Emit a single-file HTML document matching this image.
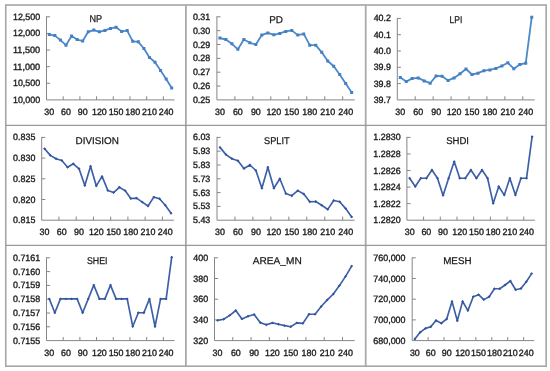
<!DOCTYPE html>
<html lang="en"><head><meta charset="utf-8"><title>Landscape metrics</title>
<style>
html,body{margin:0;padding:0;background:#fff}
svg{display:block;filter:blur(.35px)}
text{font-family:"Liberation Sans",sans-serif;fill:#1a1a1a;text-rendering:geometricPrecision}
.l{font-size:9.2px;stroke:#1a1a1a;stroke-width:.35px}
.t{font-size:9.8px;stroke:#1a1a1a;stroke-width:.25px}
</style></head><body>
<svg width="550" height="371" viewBox="0 0 550 371">
<rect width="550" height="371" fill="#fff"/>
<g fill="none" stroke="#a6a6a6">
<rect x="5.75" y="5" width="540.4" height="361.2" stroke-width="1.6"/>
<path d="M185.9 5V366M365.7 5V366" stroke-width="1.8" stroke="#aaaaaa"/>
<path d="M5.7 125.4H546M5.7 245.4H546" stroke-width="1.4" stroke="#999999"/>
</g>
<g>
<path d="M46.5 16.3V99.9H174.5M46.5 16.8h3.6M46.5 33.42h3.6M46.5 50.04h3.6M46.5 66.66h3.6M46.5 83.28h3.6M63.2 99.9v-3.6M79.89 99.9v-3.6M96.59 99.9v-3.6M113.28 99.9v-3.6M129.97 99.9v-3.6M146.67 99.9v-3.6M163.37 99.9v-3.6" fill="none" stroke="#868686" stroke-width="1"/>
<text class="l" x="40.2" y="19.8" text-anchor="end" textLength="27.23" lengthAdjust="spacingAndGlyphs">12,500</text>
<text class="l" x="40.2" y="36.42" text-anchor="end" textLength="27.23" lengthAdjust="spacingAndGlyphs">12,000</text>
<text class="l" x="40.2" y="53.04" text-anchor="end" textLength="27.23" lengthAdjust="spacingAndGlyphs">11,500</text>
<text class="l" x="40.2" y="69.66" text-anchor="end" textLength="27.23" lengthAdjust="spacingAndGlyphs">11,000</text>
<text class="l" x="40.2" y="86.28" text-anchor="end" textLength="27.23" lengthAdjust="spacingAndGlyphs">10,500</text>
<text class="l" x="40.2" y="102.9" text-anchor="end" textLength="27.23" lengthAdjust="spacingAndGlyphs">10,000</text>
<text class="l" x="49.28" y="114.9" text-anchor="middle" textLength="9.9" lengthAdjust="spacingAndGlyphs">30</text>
<text class="l" x="65.98" y="114.9" text-anchor="middle" textLength="9.9" lengthAdjust="spacingAndGlyphs">60</text>
<text class="l" x="82.67" y="114.9" text-anchor="middle" textLength="9.9" lengthAdjust="spacingAndGlyphs">90</text>
<text class="l" x="99.37" y="114.9" text-anchor="middle" textLength="14.85" lengthAdjust="spacingAndGlyphs">120</text>
<text class="l" x="116.06" y="114.9" text-anchor="middle" textLength="14.85" lengthAdjust="spacingAndGlyphs">150</text>
<text class="l" x="132.76" y="114.9" text-anchor="middle" textLength="14.85" lengthAdjust="spacingAndGlyphs">180</text>
<text class="l" x="149.45" y="114.9" text-anchor="middle" textLength="14.85" lengthAdjust="spacingAndGlyphs">210</text>
<text class="l" x="166.15" y="114.9" text-anchor="middle" textLength="14.85" lengthAdjust="spacingAndGlyphs">240</text>
<text class="t" x="89.5" y="22" textLength="12.7" lengthAdjust="spacingAndGlyphs">NP</text>
<polyline fill="none" stroke="#4c89c9" stroke-width="1.8" stroke-linejoin="round" stroke-linecap="round" points="49.28,34.6 54.85,35.6 60.41,40.1 65.98,45.2 71.54,36 77.11,39.6 82.67,41 88.24,31.8 93.8,30.1 99.37,31.8 104.93,30.4 110.5,28.4 116.06,27.3 121.63,31.4 127.19,30.6 132.76,41.3 138.32,41.8 143.89,48.5 149.45,57.4 155.02,62.3 160.58,70.4 166.15,79.1 171.71,87.9"/>
<path d="M47.78 33.1h3v3h-3zM53.35 34.1h3v3h-3zM58.91 38.6h3v3h-3zM64.48 43.7h3v3h-3zM70.04 34.5h3v3h-3zM75.61 38.1h3v3h-3zM81.17 39.5h3v3h-3zM86.74 30.3h3v3h-3zM92.3 28.6h3v3h-3zM97.87 30.3h3v3h-3zM103.43 28.9h3v3h-3zM109 26.9h3v3h-3zM114.56 25.8h3v3h-3zM120.13 29.9h3v3h-3zM125.69 29.1h3v3h-3zM131.26 39.8h3v3h-3zM136.82 40.3h3v3h-3zM142.39 47h3v3h-3zM147.95 55.9h3v3h-3zM153.52 60.8h3v3h-3zM159.08 68.9h3v3h-3zM164.65 77.6h3v3h-3zM170.21 86.4h3v3h-3z" fill="#4480c2"/>
</g>
<g>
<path d="M216.9 16.3V99.9H354.67M216.9 16.8h3.6M216.9 30.65h3.6M216.9 44.5h3.6M216.9 58.35h3.6M216.9 72.2h3.6M216.9 86.05h3.6M234.87 99.9v-3.6M252.84 99.9v-3.6M270.81 99.9v-3.6M288.78 99.9v-3.6M306.75 99.9v-3.6M324.72 99.9v-3.6M342.69 99.9v-3.6" fill="none" stroke="#868686" stroke-width="1"/>
<text class="l" x="210.2" y="19.8" text-anchor="end" textLength="17.32" lengthAdjust="spacingAndGlyphs">0.31</text>
<text class="l" x="210.2" y="33.65" text-anchor="end" textLength="17.32" lengthAdjust="spacingAndGlyphs">0.30</text>
<text class="l" x="210.2" y="47.5" text-anchor="end" textLength="17.32" lengthAdjust="spacingAndGlyphs">0.29</text>
<text class="l" x="210.2" y="61.35" text-anchor="end" textLength="17.32" lengthAdjust="spacingAndGlyphs">0.28</text>
<text class="l" x="210.2" y="75.2" text-anchor="end" textLength="17.32" lengthAdjust="spacingAndGlyphs">0.27</text>
<text class="l" x="210.2" y="89.05" text-anchor="end" textLength="17.32" lengthAdjust="spacingAndGlyphs">0.26</text>
<text class="l" x="210.2" y="102.9" text-anchor="end" textLength="17.32" lengthAdjust="spacingAndGlyphs">0.25</text>
<text class="l" x="219.9" y="114.9" text-anchor="middle" textLength="9.9" lengthAdjust="spacingAndGlyphs">30</text>
<text class="l" x="237.87" y="114.9" text-anchor="middle" textLength="9.9" lengthAdjust="spacingAndGlyphs">60</text>
<text class="l" x="255.84" y="114.9" text-anchor="middle" textLength="9.9" lengthAdjust="spacingAndGlyphs">90</text>
<text class="l" x="273.81" y="114.9" text-anchor="middle" textLength="14.85" lengthAdjust="spacingAndGlyphs">120</text>
<text class="l" x="291.77" y="114.9" text-anchor="middle" textLength="14.85" lengthAdjust="spacingAndGlyphs">150</text>
<text class="l" x="309.75" y="114.9" text-anchor="middle" textLength="14.85" lengthAdjust="spacingAndGlyphs">180</text>
<text class="l" x="327.72" y="114.9" text-anchor="middle" textLength="14.85" lengthAdjust="spacingAndGlyphs">210</text>
<text class="l" x="345.69" y="114.9" text-anchor="middle" textLength="14.85" lengthAdjust="spacingAndGlyphs">240</text>
<text class="t" x="269.2" y="23.4" textLength="13.8" lengthAdjust="spacingAndGlyphs">PD</text>
<polyline fill="none" stroke="#4c89c9" stroke-width="1.8" stroke-linejoin="round" stroke-linecap="round" points="219.9,38.1 225.88,39.5 231.88,43.8 237.87,49.3 243.86,39.5 249.84,42.8 255.84,44.5 261.82,35.1 267.81,32.9 273.81,34.8 279.8,33.4 285.79,31.4 291.77,30.4 297.76,35.1 303.75,33.9 309.75,45.2 315.74,45.2 321.73,52.3 327.72,61 333.71,66.2 339.69,74.5 345.69,83.4 351.68,92.6"/>
<path d="M218.4 36.6h3v3h-3zM224.38 38h3v3h-3zM230.38 42.3h3v3h-3zM236.37 47.8h3v3h-3zM242.36 38h3v3h-3zM248.34 41.3h3v3h-3zM254.34 43h3v3h-3zM260.32 33.6h3v3h-3zM266.31 31.4h3v3h-3zM272.31 33.3h3v3h-3zM278.3 31.9h3v3h-3zM284.29 29.9h3v3h-3zM290.27 28.9h3v3h-3zM296.26 33.6h3v3h-3zM302.25 32.4h3v3h-3zM308.25 43.7h3v3h-3zM314.24 43.7h3v3h-3zM320.23 50.8h3v3h-3zM326.22 59.5h3v3h-3zM332.21 64.7h3v3h-3zM338.19 73h3v3h-3zM344.19 81.9h3v3h-3zM350.18 91.1h3v3h-3z" fill="#4480c2"/>
</g>
<g>
<path d="M397.3 17.9V99.9H534.73M397.3 18.4h3.6M397.3 34.7h3.6M397.3 51h3.6M397.3 67.3h3.6M397.3 83.6h3.6M415.23 99.9v-3.6M433.15 99.9v-3.6M451.07 99.9v-3.6M469 99.9v-3.6M486.93 99.9v-3.6M504.85 99.9v-3.6M522.77 99.9v-3.6" fill="none" stroke="#868686" stroke-width="1"/>
<text class="l" x="391" y="21.4" text-anchor="end" textLength="17.32" lengthAdjust="spacingAndGlyphs">40.2</text>
<text class="l" x="391" y="37.7" text-anchor="end" textLength="17.32" lengthAdjust="spacingAndGlyphs">40.1</text>
<text class="l" x="391" y="54" text-anchor="end" textLength="17.32" lengthAdjust="spacingAndGlyphs">40.0</text>
<text class="l" x="391" y="70.3" text-anchor="end" textLength="17.32" lengthAdjust="spacingAndGlyphs">39.9</text>
<text class="l" x="391" y="86.6" text-anchor="end" textLength="17.32" lengthAdjust="spacingAndGlyphs">39.8</text>
<text class="l" x="391" y="102.9" text-anchor="end" textLength="17.32" lengthAdjust="spacingAndGlyphs">39.7</text>
<text class="l" x="400.29" y="114.9" text-anchor="middle" textLength="9.9" lengthAdjust="spacingAndGlyphs">30</text>
<text class="l" x="418.21" y="114.9" text-anchor="middle" textLength="9.9" lengthAdjust="spacingAndGlyphs">60</text>
<text class="l" x="436.14" y="114.9" text-anchor="middle" textLength="9.9" lengthAdjust="spacingAndGlyphs">90</text>
<text class="l" x="454.06" y="114.9" text-anchor="middle" textLength="14.85" lengthAdjust="spacingAndGlyphs">120</text>
<text class="l" x="471.99" y="114.9" text-anchor="middle" textLength="14.85" lengthAdjust="spacingAndGlyphs">150</text>
<text class="l" x="489.91" y="114.9" text-anchor="middle" textLength="14.85" lengthAdjust="spacingAndGlyphs">180</text>
<text class="l" x="507.84" y="114.9" text-anchor="middle" textLength="14.85" lengthAdjust="spacingAndGlyphs">210</text>
<text class="l" x="525.76" y="114.9" text-anchor="middle" textLength="14.85" lengthAdjust="spacingAndGlyphs">240</text>
<text class="t" x="449.4" y="23.4" textLength="12.9" lengthAdjust="spacingAndGlyphs">LPI</text>
<polyline fill="none" stroke="#4c89c9" stroke-width="1.8" stroke-linejoin="round" stroke-linecap="round" points="400.29,77.6 406.26,81.6 412.24,78.4 418.21,77.9 424.19,80.9 430.16,83.2 436.14,75.9 442.11,76.2 448.09,80.4 454.06,77.9 460.04,73.7 466.01,69 471.99,74.5 477.96,73.2 483.94,70.7 489.91,69.9 495.89,68.4 501.86,66 507.84,62.8 513.81,68.7 519.79,64.5 525.76,63.2 531.74,17.2"/>
<path d="M398.79 76.1h3v3h-3zM404.76 80.1h3v3h-3zM410.74 76.9h3v3h-3zM416.71 76.4h3v3h-3zM422.69 79.4h3v3h-3zM428.66 81.7h3v3h-3zM434.64 74.4h3v3h-3zM440.61 74.7h3v3h-3zM446.59 78.9h3v3h-3zM452.56 76.4h3v3h-3zM458.54 72.2h3v3h-3zM464.51 67.5h3v3h-3zM470.49 73h3v3h-3zM476.46 71.7h3v3h-3zM482.44 69.2h3v3h-3zM488.41 68.4h3v3h-3zM494.39 66.9h3v3h-3zM500.36 64.5h3v3h-3zM506.34 61.3h3v3h-3zM512.31 67.2h3v3h-3zM518.29 63h3v3h-3zM524.26 61.7h3v3h-3zM530.24 15.7h3v3h-3z" fill="#4480c2"/>
</g>
<g>
<path d="M41.7 136.9V220.2H173.9M41.7 137.4h3.6M41.7 158.1h3.6M41.7 178.8h3.6M41.7 199.5h3.6M58.94 220.2v-3.6M76.19 220.2v-3.6M93.43 220.2v-3.6M110.68 220.2v-3.6M127.92 220.2v-3.6M145.16 220.2v-3.6M162.41 220.2v-3.6" fill="none" stroke="#868686" stroke-width="1"/>
<text class="l" x="35.4" y="140.4" text-anchor="end" textLength="22.28" lengthAdjust="spacingAndGlyphs">0.835</text>
<text class="l" x="35.4" y="161.1" text-anchor="end" textLength="22.28" lengthAdjust="spacingAndGlyphs">0.830</text>
<text class="l" x="35.4" y="181.8" text-anchor="end" textLength="22.28" lengthAdjust="spacingAndGlyphs">0.825</text>
<text class="l" x="35.4" y="202.5" text-anchor="end" textLength="22.28" lengthAdjust="spacingAndGlyphs">0.820</text>
<text class="l" x="35.4" y="223.2" text-anchor="end" textLength="22.28" lengthAdjust="spacingAndGlyphs">0.815</text>
<text class="l" x="44.57" y="235.2" text-anchor="middle" textLength="9.9" lengthAdjust="spacingAndGlyphs">30</text>
<text class="l" x="61.82" y="235.2" text-anchor="middle" textLength="9.9" lengthAdjust="spacingAndGlyphs">60</text>
<text class="l" x="79.06" y="235.2" text-anchor="middle" textLength="9.9" lengthAdjust="spacingAndGlyphs">90</text>
<text class="l" x="96.31" y="235.2" text-anchor="middle" textLength="14.85" lengthAdjust="spacingAndGlyphs">120</text>
<text class="l" x="113.55" y="235.2" text-anchor="middle" textLength="14.85" lengthAdjust="spacingAndGlyphs">150</text>
<text class="l" x="130.79" y="235.2" text-anchor="middle" textLength="14.85" lengthAdjust="spacingAndGlyphs">180</text>
<text class="l" x="148.04" y="235.2" text-anchor="middle" textLength="14.85" lengthAdjust="spacingAndGlyphs">210</text>
<text class="l" x="165.28" y="235.2" text-anchor="middle" textLength="14.85" lengthAdjust="spacingAndGlyphs">240</text>
<text class="t" x="75.5" y="144" textLength="43.4" lengthAdjust="spacingAndGlyphs">DIVISION</text>
<polyline fill="none" stroke="#3b5fa8" stroke-width="1.65" stroke-linejoin="round" stroke-linecap="round" points="44.57,148.8 50.32,155.4 56.07,158.8 61.82,160.5 67.57,167.2 73.31,163.8 79.06,168.8 84.81,185.5 90.56,166.3 96.31,185.9 102.05,176.4 107.8,190.4 113.55,192.6 119.3,187.3 125.05,190.6 130.79,198.5 136.54,198.1 142.29,202.1 148.04,206 153.79,197.1 159.53,198.8 165.28,205.2 171.03,213.2"/>
<path d="M44.57 147.36l1.44 1.44l-1.44 1.44l-1.44 -1.44zM50.32 153.96l1.44 1.44l-1.44 1.44l-1.44 -1.44zM56.07 157.36l1.44 1.44l-1.44 1.44l-1.44 -1.44zM61.82 159.06l1.44 1.44l-1.44 1.44l-1.44 -1.44zM67.57 165.76l1.44 1.44l-1.44 1.44l-1.44 -1.44zM73.31 162.36l1.44 1.44l-1.44 1.44l-1.44 -1.44zM79.06 167.36l1.44 1.44l-1.44 1.44l-1.44 -1.44zM84.81 184.06l1.44 1.44l-1.44 1.44l-1.44 -1.44zM90.56 164.86l1.44 1.44l-1.44 1.44l-1.44 -1.44zM96.31 184.46l1.44 1.44l-1.44 1.44l-1.44 -1.44zM102.05 174.96l1.44 1.44l-1.44 1.44l-1.44 -1.44zM107.8 188.96l1.44 1.44l-1.44 1.44l-1.44 -1.44zM113.55 191.16l1.44 1.44l-1.44 1.44l-1.44 -1.44zM119.3 185.86l1.44 1.44l-1.44 1.44l-1.44 -1.44zM125.05 189.16l1.44 1.44l-1.44 1.44l-1.44 -1.44zM130.79 197.06l1.44 1.44l-1.44 1.44l-1.44 -1.44zM136.54 196.66l1.44 1.44l-1.44 1.44l-1.44 -1.44zM142.29 200.66l1.44 1.44l-1.44 1.44l-1.44 -1.44zM148.04 204.56l1.44 1.44l-1.44 1.44l-1.44 -1.44zM153.79 195.66l1.44 1.44l-1.44 1.44l-1.44 -1.44zM159.53 197.36l1.44 1.44l-1.44 1.44l-1.44 -1.44zM165.28 203.76l1.44 1.44l-1.44 1.44l-1.44 -1.44zM171.03 211.76l1.44 1.44l-1.44 1.44l-1.44 -1.44z" fill="#34549a"/>
</g>
<g>
<path d="M217 136.9V220.2H354.65M217 137.4h3.6M217 151.2h3.6M217 165h3.6M217 178.8h3.6M217 192.6h3.6M217 206.4h3.6M234.96 220.2v-3.6M252.91 220.2v-3.6M270.87 220.2v-3.6M288.82 220.2v-3.6M306.77 220.2v-3.6M324.73 220.2v-3.6M342.69 220.2v-3.6" fill="none" stroke="#868686" stroke-width="1"/>
<text class="l" x="210.3" y="140.4" text-anchor="end" textLength="17.32" lengthAdjust="spacingAndGlyphs">6.03</text>
<text class="l" x="210.3" y="154.2" text-anchor="end" textLength="17.32" lengthAdjust="spacingAndGlyphs">5.93</text>
<text class="l" x="210.3" y="168" text-anchor="end" textLength="17.32" lengthAdjust="spacingAndGlyphs">5.83</text>
<text class="l" x="210.3" y="181.8" text-anchor="end" textLength="17.32" lengthAdjust="spacingAndGlyphs">5.73</text>
<text class="l" x="210.3" y="195.6" text-anchor="end" textLength="17.32" lengthAdjust="spacingAndGlyphs">5.63</text>
<text class="l" x="210.3" y="209.4" text-anchor="end" textLength="17.32" lengthAdjust="spacingAndGlyphs">5.53</text>
<text class="l" x="210.3" y="223.2" text-anchor="end" textLength="17.32" lengthAdjust="spacingAndGlyphs">5.43</text>
<text class="l" x="219.99" y="235.2" text-anchor="middle" textLength="9.9" lengthAdjust="spacingAndGlyphs">30</text>
<text class="l" x="237.95" y="235.2" text-anchor="middle" textLength="9.9" lengthAdjust="spacingAndGlyphs">60</text>
<text class="l" x="255.9" y="235.2" text-anchor="middle" textLength="9.9" lengthAdjust="spacingAndGlyphs">90</text>
<text class="l" x="273.86" y="235.2" text-anchor="middle" textLength="14.85" lengthAdjust="spacingAndGlyphs">120</text>
<text class="l" x="291.81" y="235.2" text-anchor="middle" textLength="14.85" lengthAdjust="spacingAndGlyphs">150</text>
<text class="l" x="309.77" y="235.2" text-anchor="middle" textLength="14.85" lengthAdjust="spacingAndGlyphs">180</text>
<text class="l" x="327.72" y="235.2" text-anchor="middle" textLength="14.85" lengthAdjust="spacingAndGlyphs">210</text>
<text class="l" x="345.68" y="235.2" text-anchor="middle" textLength="14.85" lengthAdjust="spacingAndGlyphs">240</text>
<text class="t" x="264.1" y="144" textLength="25.5" lengthAdjust="spacingAndGlyphs">SPLIT</text>
<polyline fill="none" stroke="#3b5fa8" stroke-width="1.65" stroke-linejoin="round" stroke-linecap="round" points="219.99,147.4 225.98,154.6 231.96,158.8 237.95,160.8 243.93,168.5 249.92,165 255.9,170.5 261.89,188.2 267.87,167.2 273.86,188.2 279.84,178.8 285.83,193.5 291.81,195.7 297.8,190.6 303.78,194 309.77,201.8 315.75,201.5 321.74,205.2 327.72,209.4 333.71,200.5 339.69,201.8 345.68,208.6 351.66,216.9"/>
<path d="M219.99 145.96l1.44 1.44l-1.44 1.44l-1.44 -1.44zM225.98 153.16l1.44 1.44l-1.44 1.44l-1.44 -1.44zM231.96 157.36l1.44 1.44l-1.44 1.44l-1.44 -1.44zM237.95 159.36l1.44 1.44l-1.44 1.44l-1.44 -1.44zM243.93 167.06l1.44 1.44l-1.44 1.44l-1.44 -1.44zM249.92 163.56l1.44 1.44l-1.44 1.44l-1.44 -1.44zM255.9 169.06l1.44 1.44l-1.44 1.44l-1.44 -1.44zM261.89 186.76l1.44 1.44l-1.44 1.44l-1.44 -1.44zM267.87 165.76l1.44 1.44l-1.44 1.44l-1.44 -1.44zM273.86 186.76l1.44 1.44l-1.44 1.44l-1.44 -1.44zM279.84 177.36l1.44 1.44l-1.44 1.44l-1.44 -1.44zM285.83 192.06l1.44 1.44l-1.44 1.44l-1.44 -1.44zM291.81 194.26l1.44 1.44l-1.44 1.44l-1.44 -1.44zM297.8 189.16l1.44 1.44l-1.44 1.44l-1.44 -1.44zM303.78 192.56l1.44 1.44l-1.44 1.44l-1.44 -1.44zM309.77 200.36l1.44 1.44l-1.44 1.44l-1.44 -1.44zM315.75 200.06l1.44 1.44l-1.44 1.44l-1.44 -1.44zM321.74 203.76l1.44 1.44l-1.44 1.44l-1.44 -1.44zM327.72 207.96l1.44 1.44l-1.44 1.44l-1.44 -1.44zM333.71 199.06l1.44 1.44l-1.44 1.44l-1.44 -1.44zM339.69 200.36l1.44 1.44l-1.44 1.44l-1.44 -1.44zM345.68 207.16l1.44 1.44l-1.44 1.44l-1.44 -1.44zM351.66 215.46l1.44 1.44l-1.44 1.44l-1.44 -1.44z" fill="#34549a"/>
</g>
<g>
<path d="M406.9 136.9V220.2H534.89M406.9 137.4h3.6M406.9 153.96h3.6M406.9 170.52h3.6M406.9 187.08h3.6M406.9 203.64h3.6M423.59 220.2v-3.6M440.29 220.2v-3.6M456.98 220.2v-3.6M473.68 220.2v-3.6M490.38 220.2v-3.6M507.07 220.2v-3.6M523.76 220.2v-3.6" fill="none" stroke="#868686" stroke-width="1"/>
<text class="l" x="400.6" y="140.4" text-anchor="end" textLength="27.23" lengthAdjust="spacingAndGlyphs">1.2830</text>
<text class="l" x="400.6" y="156.96" text-anchor="end" textLength="27.23" lengthAdjust="spacingAndGlyphs">1.2828</text>
<text class="l" x="400.6" y="173.52" text-anchor="end" textLength="27.23" lengthAdjust="spacingAndGlyphs">1.2826</text>
<text class="l" x="400.6" y="190.08" text-anchor="end" textLength="27.23" lengthAdjust="spacingAndGlyphs">1.2824</text>
<text class="l" x="400.6" y="206.64" text-anchor="end" textLength="27.23" lengthAdjust="spacingAndGlyphs">1.2822</text>
<text class="l" x="400.6" y="223.2" text-anchor="end" textLength="27.23" lengthAdjust="spacingAndGlyphs">1.2820</text>
<text class="l" x="409.68" y="235.2" text-anchor="middle" textLength="9.9" lengthAdjust="spacingAndGlyphs">30</text>
<text class="l" x="426.38" y="235.2" text-anchor="middle" textLength="9.9" lengthAdjust="spacingAndGlyphs">60</text>
<text class="l" x="443.07" y="235.2" text-anchor="middle" textLength="9.9" lengthAdjust="spacingAndGlyphs">90</text>
<text class="l" x="459.77" y="235.2" text-anchor="middle" textLength="14.85" lengthAdjust="spacingAndGlyphs">120</text>
<text class="l" x="476.46" y="235.2" text-anchor="middle" textLength="14.85" lengthAdjust="spacingAndGlyphs">150</text>
<text class="l" x="493.16" y="235.2" text-anchor="middle" textLength="14.85" lengthAdjust="spacingAndGlyphs">180</text>
<text class="l" x="509.85" y="235.2" text-anchor="middle" textLength="14.85" lengthAdjust="spacingAndGlyphs">210</text>
<text class="l" x="526.55" y="235.2" text-anchor="middle" textLength="14.85" lengthAdjust="spacingAndGlyphs">240</text>
<text class="t" x="446.2" y="144" textLength="22.8" lengthAdjust="spacingAndGlyphs">SHDI</text>
<polyline fill="none" stroke="#3b5fa8" stroke-width="1.65" stroke-linejoin="round" stroke-linecap="round" points="409.68,178.2 415.25,186.5 420.81,178.2 426.38,178.2 431.94,170 437.51,178.2 443.07,195.4 448.64,178.2 454.2,161.6 459.77,178.2 465.33,178.2 470.9,170 476.46,178.2 482.03,170 487.59,178.2 493.16,203.4 498.72,186.5 504.29,195.1 509.85,178.2 515.42,195.1 520.98,178.2 526.55,178.2 532.11,136.7"/>
<path d="M409.68 176.76l1.44 1.44l-1.44 1.44l-1.44 -1.44zM415.25 185.06l1.44 1.44l-1.44 1.44l-1.44 -1.44zM420.81 176.76l1.44 1.44l-1.44 1.44l-1.44 -1.44zM426.38 176.76l1.44 1.44l-1.44 1.44l-1.44 -1.44zM431.94 168.56l1.44 1.44l-1.44 1.44l-1.44 -1.44zM437.51 176.76l1.44 1.44l-1.44 1.44l-1.44 -1.44zM443.07 193.96l1.44 1.44l-1.44 1.44l-1.44 -1.44zM448.64 176.76l1.44 1.44l-1.44 1.44l-1.44 -1.44zM454.2 160.16l1.44 1.44l-1.44 1.44l-1.44 -1.44zM459.77 176.76l1.44 1.44l-1.44 1.44l-1.44 -1.44zM465.33 176.76l1.44 1.44l-1.44 1.44l-1.44 -1.44zM470.9 168.56l1.44 1.44l-1.44 1.44l-1.44 -1.44zM476.46 176.76l1.44 1.44l-1.44 1.44l-1.44 -1.44zM482.03 168.56l1.44 1.44l-1.44 1.44l-1.44 -1.44zM487.59 176.76l1.44 1.44l-1.44 1.44l-1.44 -1.44zM493.16 201.96l1.44 1.44l-1.44 1.44l-1.44 -1.44zM498.72 185.06l1.44 1.44l-1.44 1.44l-1.44 -1.44zM504.29 193.66l1.44 1.44l-1.44 1.44l-1.44 -1.44zM509.85 176.76l1.44 1.44l-1.44 1.44l-1.44 -1.44zM515.42 193.66l1.44 1.44l-1.44 1.44l-1.44 -1.44zM520.98 176.76l1.44 1.44l-1.44 1.44l-1.44 -1.44zM526.55 176.76l1.44 1.44l-1.44 1.44l-1.44 -1.44zM532.11 135.26l1.44 1.44l-1.44 1.44l-1.44 -1.44z" fill="#34549a"/>
</g>
<g>
<path d="M46.5 257.3V340.6H174.5M46.5 257.8h3.6M46.5 271.6h3.6M46.5 285.4h3.6M46.5 299.2h3.6M46.5 313h3.6M46.5 326.8h3.6M63.2 340.6v-3.6M79.89 340.6v-3.6M96.59 340.6v-3.6M113.28 340.6v-3.6M129.97 340.6v-3.6M146.67 340.6v-3.6M163.37 340.6v-3.6" fill="none" stroke="#868686" stroke-width="1"/>
<text class="l" x="40.2" y="260.8" text-anchor="end" textLength="27.23" lengthAdjust="spacingAndGlyphs">0.7161</text>
<text class="l" x="40.2" y="274.6" text-anchor="end" textLength="27.23" lengthAdjust="spacingAndGlyphs">0.7160</text>
<text class="l" x="40.2" y="288.4" text-anchor="end" textLength="27.23" lengthAdjust="spacingAndGlyphs">0.7159</text>
<text class="l" x="40.2" y="302.2" text-anchor="end" textLength="27.23" lengthAdjust="spacingAndGlyphs">0.7158</text>
<text class="l" x="40.2" y="316" text-anchor="end" textLength="27.23" lengthAdjust="spacingAndGlyphs">0.7157</text>
<text class="l" x="40.2" y="329.8" text-anchor="end" textLength="27.23" lengthAdjust="spacingAndGlyphs">0.7156</text>
<text class="l" x="40.2" y="343.6" text-anchor="end" textLength="27.23" lengthAdjust="spacingAndGlyphs">0.7155</text>
<text class="l" x="49.28" y="355.6" text-anchor="middle" textLength="9.9" lengthAdjust="spacingAndGlyphs">30</text>
<text class="l" x="65.98" y="355.6" text-anchor="middle" textLength="9.9" lengthAdjust="spacingAndGlyphs">60</text>
<text class="l" x="82.67" y="355.6" text-anchor="middle" textLength="9.9" lengthAdjust="spacingAndGlyphs">90</text>
<text class="l" x="99.37" y="355.6" text-anchor="middle" textLength="14.85" lengthAdjust="spacingAndGlyphs">120</text>
<text class="l" x="116.06" y="355.6" text-anchor="middle" textLength="14.85" lengthAdjust="spacingAndGlyphs">150</text>
<text class="l" x="132.76" y="355.6" text-anchor="middle" textLength="14.85" lengthAdjust="spacingAndGlyphs">180</text>
<text class="l" x="149.45" y="355.6" text-anchor="middle" textLength="14.85" lengthAdjust="spacingAndGlyphs">210</text>
<text class="l" x="166.15" y="355.6" text-anchor="middle" textLength="14.85" lengthAdjust="spacingAndGlyphs">240</text>
<text class="t" x="86.9" y="264.2" textLength="20.6" lengthAdjust="spacingAndGlyphs">SHEI</text>
<polyline fill="none" stroke="#3b5fa8" stroke-width="1.65" stroke-linejoin="round" stroke-linecap="round" points="49.28,298.9 54.85,312.7 60.41,298.9 65.98,298.9 71.54,298.9 77.11,298.9 82.67,312.7 88.24,298.9 93.8,285.1 99.37,298.9 104.93,298.9 110.5,285.1 116.06,298.9 121.63,298.9 127.19,298.9 132.76,326.5 138.32,312.7 143.89,312.7 149.45,298.9 155.02,326.5 160.58,298.9 166.15,298.9 171.71,257.2"/>
<path d="M49.28 297.46l1.44 1.44l-1.44 1.44l-1.44 -1.44zM54.85 311.26l1.44 1.44l-1.44 1.44l-1.44 -1.44zM60.41 297.46l1.44 1.44l-1.44 1.44l-1.44 -1.44zM65.98 297.46l1.44 1.44l-1.44 1.44l-1.44 -1.44zM71.54 297.46l1.44 1.44l-1.44 1.44l-1.44 -1.44zM77.11 297.46l1.44 1.44l-1.44 1.44l-1.44 -1.44zM82.67 311.26l1.44 1.44l-1.44 1.44l-1.44 -1.44zM88.24 297.46l1.44 1.44l-1.44 1.44l-1.44 -1.44zM93.8 283.66l1.44 1.44l-1.44 1.44l-1.44 -1.44zM99.37 297.46l1.44 1.44l-1.44 1.44l-1.44 -1.44zM104.93 297.46l1.44 1.44l-1.44 1.44l-1.44 -1.44zM110.5 283.66l1.44 1.44l-1.44 1.44l-1.44 -1.44zM116.06 297.46l1.44 1.44l-1.44 1.44l-1.44 -1.44zM121.63 297.46l1.44 1.44l-1.44 1.44l-1.44 -1.44zM127.19 297.46l1.44 1.44l-1.44 1.44l-1.44 -1.44zM132.76 325.06l1.44 1.44l-1.44 1.44l-1.44 -1.44zM138.32 311.26l1.44 1.44l-1.44 1.44l-1.44 -1.44zM143.89 311.26l1.44 1.44l-1.44 1.44l-1.44 -1.44zM149.45 297.46l1.44 1.44l-1.44 1.44l-1.44 -1.44zM155.02 325.06l1.44 1.44l-1.44 1.44l-1.44 -1.44zM160.58 297.46l1.44 1.44l-1.44 1.44l-1.44 -1.44zM166.15 297.46l1.44 1.44l-1.44 1.44l-1.44 -1.44zM171.71 255.76l1.44 1.44l-1.44 1.44l-1.44 -1.44z" fill="#34549a"/>
</g>
<g>
<path d="M214.5 257.3V340.6H354.69M214.5 257.8h3.6M214.5 278.5h3.6M214.5 299.2h3.6M214.5 319.9h3.6M232.78 340.6v-3.6M251.07 340.6v-3.6M269.36 340.6v-3.6M287.64 340.6v-3.6M305.93 340.6v-3.6M324.21 340.6v-3.6M342.5 340.6v-3.6" fill="none" stroke="#868686" stroke-width="1"/>
<text class="l" x="208.2" y="260.8" text-anchor="end" textLength="14.85" lengthAdjust="spacingAndGlyphs">400</text>
<text class="l" x="208.2" y="281.5" text-anchor="end" textLength="14.85" lengthAdjust="spacingAndGlyphs">380</text>
<text class="l" x="208.2" y="302.2" text-anchor="end" textLength="14.85" lengthAdjust="spacingAndGlyphs">360</text>
<text class="l" x="208.2" y="322.9" text-anchor="end" textLength="14.85" lengthAdjust="spacingAndGlyphs">340</text>
<text class="l" x="208.2" y="343.6" text-anchor="end" textLength="14.85" lengthAdjust="spacingAndGlyphs">320</text>
<text class="l" x="217.55" y="355.6" text-anchor="middle" textLength="9.9" lengthAdjust="spacingAndGlyphs">30</text>
<text class="l" x="235.83" y="355.6" text-anchor="middle" textLength="9.9" lengthAdjust="spacingAndGlyphs">60</text>
<text class="l" x="254.12" y="355.6" text-anchor="middle" textLength="9.9" lengthAdjust="spacingAndGlyphs">90</text>
<text class="l" x="272.4" y="355.6" text-anchor="middle" textLength="14.85" lengthAdjust="spacingAndGlyphs">120</text>
<text class="l" x="290.69" y="355.6" text-anchor="middle" textLength="14.85" lengthAdjust="spacingAndGlyphs">150</text>
<text class="l" x="308.97" y="355.6" text-anchor="middle" textLength="14.85" lengthAdjust="spacingAndGlyphs">180</text>
<text class="l" x="327.26" y="355.6" text-anchor="middle" textLength="14.85" lengthAdjust="spacingAndGlyphs">210</text>
<text class="l" x="345.54" y="355.6" text-anchor="middle" textLength="14.85" lengthAdjust="spacingAndGlyphs">240</text>
<text class="t" x="252.8" y="264.3" textLength="48.9" lengthAdjust="spacingAndGlyphs">AREA_MN</text>
<polyline fill="none" stroke="#3b5fa8" stroke-width="1.65" stroke-linejoin="round" stroke-linecap="round" points="217.55,320.4 223.64,319.2 229.74,315.4 235.83,310.5 241.93,318.9 248.02,316.2 254.12,314.5 260.21,322.6 266.31,324.7 272.4,322.9 278.5,324.2 284.59,325.6 290.69,326.7 296.78,322.9 302.88,323.4 308.97,314.2 315.07,314.2 321.16,306.5 327.26,299.9 333.35,294 339.45,285.6 345.54,276.4 351.64,266.1"/>
<path d="M217.55 318.96l1.44 1.44l-1.44 1.44l-1.44 -1.44zM223.64 317.76l1.44 1.44l-1.44 1.44l-1.44 -1.44zM229.74 313.96l1.44 1.44l-1.44 1.44l-1.44 -1.44zM235.83 309.06l1.44 1.44l-1.44 1.44l-1.44 -1.44zM241.93 317.46l1.44 1.44l-1.44 1.44l-1.44 -1.44zM248.02 314.76l1.44 1.44l-1.44 1.44l-1.44 -1.44zM254.12 313.06l1.44 1.44l-1.44 1.44l-1.44 -1.44zM260.21 321.16l1.44 1.44l-1.44 1.44l-1.44 -1.44zM266.31 323.26l1.44 1.44l-1.44 1.44l-1.44 -1.44zM272.4 321.46l1.44 1.44l-1.44 1.44l-1.44 -1.44zM278.5 322.76l1.44 1.44l-1.44 1.44l-1.44 -1.44zM284.59 324.16l1.44 1.44l-1.44 1.44l-1.44 -1.44zM290.69 325.26l1.44 1.44l-1.44 1.44l-1.44 -1.44zM296.78 321.46l1.44 1.44l-1.44 1.44l-1.44 -1.44zM302.88 321.96l1.44 1.44l-1.44 1.44l-1.44 -1.44zM308.97 312.76l1.44 1.44l-1.44 1.44l-1.44 -1.44zM315.07 312.76l1.44 1.44l-1.44 1.44l-1.44 -1.44zM321.16 305.06l1.44 1.44l-1.44 1.44l-1.44 -1.44zM327.26 298.46l1.44 1.44l-1.44 1.44l-1.44 -1.44zM333.35 292.56l1.44 1.44l-1.44 1.44l-1.44 -1.44zM339.45 284.16l1.44 1.44l-1.44 1.44l-1.44 -1.44zM345.54 274.96l1.44 1.44l-1.44 1.44l-1.44 -1.44zM351.64 264.66l1.44 1.44l-1.44 1.44l-1.44 -1.44z" fill="#34549a"/>
</g>
<g>
<path d="M412.2 257.3V340.6H534.24M412.2 257.8h3.6M412.2 278.5h3.6M412.2 299.2h3.6M412.2 319.9h3.6M428.12 340.6v-3.6M444.04 340.6v-3.6M459.95 340.6v-3.6M475.87 340.6v-3.6M491.79 340.6v-3.6M507.71 340.6v-3.6M523.63 340.6v-3.6" fill="none" stroke="#868686" stroke-width="1"/>
<text class="l" x="405.5" y="260.8" text-anchor="end" textLength="32.18" lengthAdjust="spacingAndGlyphs">760,000</text>
<text class="l" x="405.5" y="281.5" text-anchor="end" textLength="32.18" lengthAdjust="spacingAndGlyphs">740,000</text>
<text class="l" x="405.5" y="302.2" text-anchor="end" textLength="32.18" lengthAdjust="spacingAndGlyphs">720,000</text>
<text class="l" x="405.5" y="322.9" text-anchor="end" textLength="32.18" lengthAdjust="spacingAndGlyphs">700,000</text>
<text class="l" x="405.5" y="343.6" text-anchor="end" textLength="32.18" lengthAdjust="spacingAndGlyphs">680,000</text>
<text class="l" x="414.85" y="355.6" text-anchor="middle" textLength="9.9" lengthAdjust="spacingAndGlyphs">30</text>
<text class="l" x="430.77" y="355.6" text-anchor="middle" textLength="9.9" lengthAdjust="spacingAndGlyphs">60</text>
<text class="l" x="446.69" y="355.6" text-anchor="middle" textLength="9.9" lengthAdjust="spacingAndGlyphs">90</text>
<text class="l" x="462.61" y="355.6" text-anchor="middle" textLength="14.85" lengthAdjust="spacingAndGlyphs">120</text>
<text class="l" x="478.52" y="355.6" text-anchor="middle" textLength="14.85" lengthAdjust="spacingAndGlyphs">150</text>
<text class="l" x="494.44" y="355.6" text-anchor="middle" textLength="14.85" lengthAdjust="spacingAndGlyphs">180</text>
<text class="l" x="510.36" y="355.6" text-anchor="middle" textLength="14.85" lengthAdjust="spacingAndGlyphs">210</text>
<text class="l" x="526.28" y="355.6" text-anchor="middle" textLength="14.85" lengthAdjust="spacingAndGlyphs">240</text>
<text class="t" x="443.2" y="264.1" textLength="28.3" lengthAdjust="spacingAndGlyphs">MESH</text>
<polyline fill="none" stroke="#3b5fa8" stroke-width="1.65" stroke-linejoin="round" stroke-linecap="round" points="414.85,339 420.16,332.3 425.46,328.4 430.77,326.7 436.08,320.4 441.38,323.2 446.69,319 452,301.4 457.3,320.7 462.61,301.4 467.91,310.6 473.22,296.7 478.52,294.7 483.83,299.6 489.14,296.7 494.44,288.7 499.75,288.7 505.06,285 510.36,281 515.67,289.8 520.97,288.5 526.28,281.8 531.59,273.6"/>
<path d="M414.85 337.56l1.44 1.44l-1.44 1.44l-1.44 -1.44zM420.16 330.86l1.44 1.44l-1.44 1.44l-1.44 -1.44zM425.46 326.96l1.44 1.44l-1.44 1.44l-1.44 -1.44zM430.77 325.26l1.44 1.44l-1.44 1.44l-1.44 -1.44zM436.08 318.96l1.44 1.44l-1.44 1.44l-1.44 -1.44zM441.38 321.76l1.44 1.44l-1.44 1.44l-1.44 -1.44zM446.69 317.56l1.44 1.44l-1.44 1.44l-1.44 -1.44zM452 299.96l1.44 1.44l-1.44 1.44l-1.44 -1.44zM457.3 319.26l1.44 1.44l-1.44 1.44l-1.44 -1.44zM462.61 299.96l1.44 1.44l-1.44 1.44l-1.44 -1.44zM467.91 309.16l1.44 1.44l-1.44 1.44l-1.44 -1.44zM473.22 295.26l1.44 1.44l-1.44 1.44l-1.44 -1.44zM478.52 293.26l1.44 1.44l-1.44 1.44l-1.44 -1.44zM483.83 298.16l1.44 1.44l-1.44 1.44l-1.44 -1.44zM489.14 295.26l1.44 1.44l-1.44 1.44l-1.44 -1.44zM494.44 287.26l1.44 1.44l-1.44 1.44l-1.44 -1.44zM499.75 287.26l1.44 1.44l-1.44 1.44l-1.44 -1.44zM505.06 283.56l1.44 1.44l-1.44 1.44l-1.44 -1.44zM510.36 279.56l1.44 1.44l-1.44 1.44l-1.44 -1.44zM515.67 288.36l1.44 1.44l-1.44 1.44l-1.44 -1.44zM520.97 287.06l1.44 1.44l-1.44 1.44l-1.44 -1.44zM526.28 280.36l1.44 1.44l-1.44 1.44l-1.44 -1.44zM531.59 272.16l1.44 1.44l-1.44 1.44l-1.44 -1.44z" fill="#34549a"/>
</g>
</svg>
</body></html>
